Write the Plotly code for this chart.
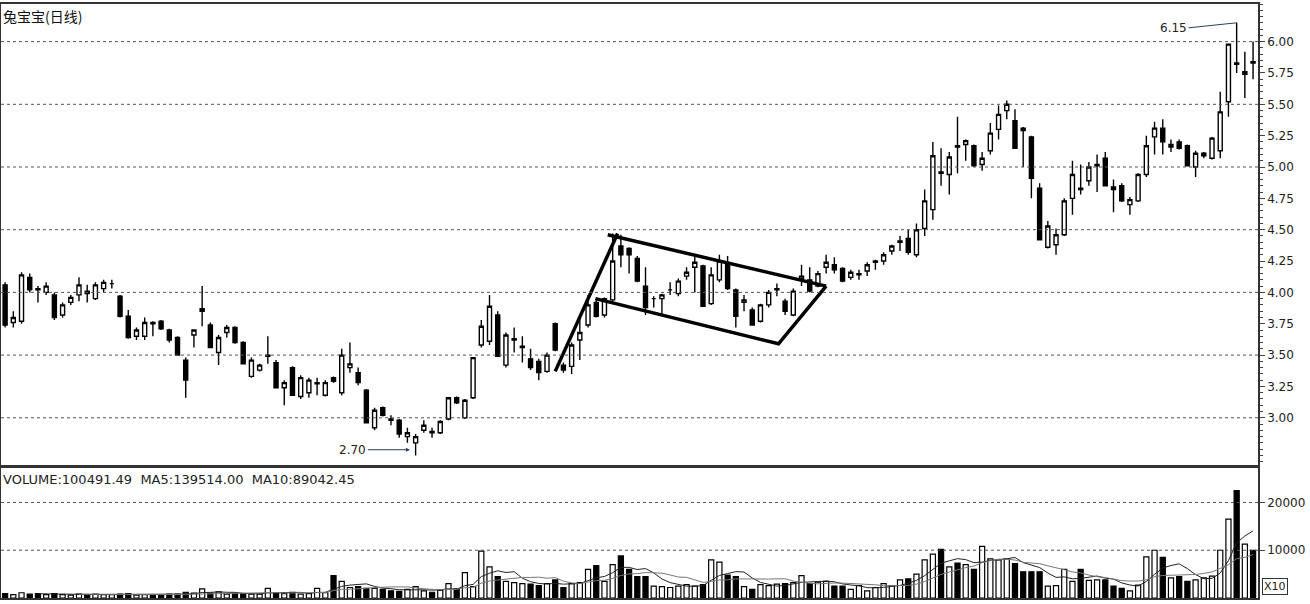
import pandas as pd
import plotly.graph_objects as go
from plotly.subplots import make_subplots

# daily candles
opens = [4.06, 3.76, 3.77, 4.12, 4.03, 4.00, 3.98, 3.82, 3.92, 3.98, 4.01, 3.95, 4.03, 4.07, 3.97, 3.81,
         3.65, 3.65, 3.76, 3.77, 3.70, 3.64, 3.46, 3.66, 3.85, 3.74, 3.52, 3.68, 3.72, 3.60, 3.33, 3.38,
         3.49, 3.44, 3.24, 3.40, 3.17, 3.20, 3.27, 3.18, 3.32, 3.20, 3.40, 3.36, 3.22, 2.92, 3.08, 2.99,
         2.98, 2.85, 2.80, 2.90, 2.89, 2.88, 2.99, 3.16, 3.00, 3.16, 3.58, 3.61, 3.82, 3.42, 3.62, 3.56,
         3.47, 3.45, 3.37, 3.75, 3.42, 3.41, 3.62, 3.74, 3.92, 3.82, 3.94, 4.37, 4.35, 4.27, 4.05, 3.95,
         3.95, 4.02, 3.99, 4.13, 4.20, 4.21, 3.91, 4.10, 4.23, 4.02, 3.92, 3.86, 3.77, 3.90, 4.02, 3.93,
         3.82, 4.11, 4.10, 4.05, 4.20, 4.22, 4.19, 4.12, 4.14, 4.17, 4.24, 4.25, 4.33, 4.40, 4.43, 4.30,
         4.51, 4.66, 4.96, 4.94, 5.17, 5.18, 5.17, 5.02, 5.13, 5.30, 5.45, 5.37, 5.31, 5.24, 4.83, 4.36,
         4.38, 4.46, 4.75, 4.83, 4.89, 5.01, 5.07, 4.84, 4.85, 4.70, 4.73, 4.94, 5.24, 5.31, 5.16, 5.20,
         5.17, 5.00, 5.09, 5.07, 5.13, 5.52, 5.83, 5.74, 5.84]
highs = [4.08, 3.85, 4.16, 4.15, 4.05, 4.08, 4.00, 3.92, 3.98, 4.12, 4.06, 4.08, 4.10, 4.10, 3.98, 3.86,
         3.72, 3.80, 3.77, 3.78, 3.71, 3.65, 3.48, 3.70, 4.05, 3.76, 3.66, 3.74, 3.73, 3.61, 3.48, 3.43,
         3.65, 3.46, 3.30, 3.41, 3.34, 3.32, 3.32, 3.30, 3.33, 3.55, 3.60, 3.40, 3.23, 3.08, 3.09, 3.02,
         2.99, 2.92, 2.87, 2.98, 2.92, 2.98, 3.16, 3.17, 3.15, 3.48, 3.78, 3.98, 3.85, 3.68, 3.72, 3.65,
         3.55, 3.47, 3.52, 3.76, 3.44, 3.60, 3.82, 3.98, 3.94, 3.96, 4.47, 4.46, 4.36, 4.29, 4.20, 3.97,
         3.99, 4.08, 4.11, 4.20, 4.30, 4.22, 4.20, 4.30, 4.29, 4.03, 3.98, 3.88, 3.91, 4.02, 4.07, 3.95,
         4.03, 4.22, 4.20, 4.17, 4.30, 4.28, 4.20, 4.18, 4.18, 4.24, 4.26, 4.32, 4.38, 4.45, 4.50, 4.55,
         4.82, 5.20, 5.15, 5.12, 5.40, 5.22, 5.18, 5.12, 5.35, 5.49, 5.53, 5.46, 5.32, 5.25, 4.87, 4.57,
         4.51, 4.75, 5.05, 5.02, 5.04, 5.10, 5.12, 4.90, 4.87, 4.76, 4.95, 5.25, 5.36, 5.38, 5.22, 5.22,
         5.18, 5.13, 5.12, 5.24, 5.60, 5.98, 6.15, 5.92, 6.00]
lows = [3.72, 3.72, 3.75, 4.00, 3.92, 3.98, 3.78, 3.80, 3.90, 3.93, 3.92, 3.94, 4.00, 4.03, 3.80, 3.63,
        3.62, 3.62, 3.65, 3.70, 3.60, 3.50, 3.16, 3.56, 3.73, 3.56, 3.42, 3.64, 3.59, 3.43, 3.32, 3.37,
        3.43, 3.24, 3.10, 3.18, 3.15, 3.16, 3.18, 3.17, 3.28, 3.18, 3.36, 3.26, 2.96, 2.90, 3.01, 2.94,
        2.84, 2.80, 2.70, 2.88, 2.84, 2.87, 2.98, 3.11, 2.99, 3.15, 3.56, 3.58, 3.49, 3.40, 3.52, 3.44,
        3.38, 3.30, 3.36, 3.53, 3.36, 3.35, 3.46, 3.72, 3.80, 3.80, 3.92, 4.20, 4.15, 4.08, 3.82, 3.88,
        3.82, 3.98, 3.97, 4.10, 4.00, 3.89, 3.90, 4.08, 4.02, 3.72, 3.85, 3.74, 3.76, 3.88, 3.97, 3.82,
        3.81, 4.05, 4.00, 4.04, 4.15, 4.15, 4.08, 4.10, 4.10, 4.13, 4.18, 4.22, 4.30, 4.33, 4.30, 4.28,
        4.45, 4.58, 4.85, 4.78, 4.95, 5.05, 5.00, 4.97, 5.10, 5.22, 5.38, 5.15, 5.00, 4.75, 4.42, 4.35,
        4.30, 4.45, 4.62, 4.78, 4.85, 4.80, 4.85, 4.64, 4.72, 4.62, 4.72, 4.92, 5.10, 5.10, 5.12, 5.14,
        5.01, 4.92, 5.07, 5.06, 5.07, 5.40, 5.75, 5.55, 5.70]
closes = [3.74, 3.80, 4.14, 4.02, 4.02, 4.05, 3.80, 3.90, 3.96, 4.06, 3.99, 4.06, 4.08, 4.07, 3.81, 3.64,
          3.70, 3.76, 3.75, 3.71, 3.62, 3.50, 3.30, 3.70, 3.87, 3.56, 3.64, 3.72, 3.60, 3.43, 3.46, 3.42,
          3.50, 3.24, 3.28, 3.18, 3.32, 3.30, 3.28, 3.28, 3.29, 3.50, 3.43, 3.28, 2.96, 3.06, 3.02, 2.98,
          2.87, 2.88, 2.85, 2.94, 2.88, 2.97, 3.16, 3.12, 3.14, 3.48, 3.73, 3.89, 3.49, 3.66, 3.63, 3.57,
          3.40, 3.36, 3.50, 3.54, 3.38, 3.58, 3.68, 3.90, 3.81, 3.95, 4.25, 4.30, 4.30, 4.09, 3.88, 3.95,
          3.98, 4.02, 4.09, 4.16, 4.24, 3.89, 4.14, 4.25, 4.03, 3.81, 3.94, 3.74, 3.90, 4.00, 4.03, 3.85,
          4.01, 4.13, 4.01, 4.15, 4.24, 4.18, 4.09, 4.16, 4.15, 4.22, 4.25, 4.30, 4.37, 4.41, 4.32, 4.50,
          4.73, 5.09, 4.95, 5.08, 5.16, 5.21, 5.01, 5.07, 5.27, 5.42, 5.50, 5.15, 5.29, 4.91, 4.42, 4.53,
          4.46, 4.73, 4.94, 4.82, 5.00, 5.02, 4.85, 4.82, 4.73, 4.74, 4.94, 5.17, 5.31, 5.20, 5.18, 5.15,
          5.01, 5.11, 5.11, 5.23, 5.44, 5.98, 5.82, 5.76, 5.83]
volumes = ([900, 700, 1100, 800, 900, 700, 900, 700, 600, 800, 700, 800, 700, 700, 800, 900,
            600, 700, 600, 700, 800, 800, 1200, 1000]
           + [1900, 1000, 1300, 800, 900, 900, 800, 800, 2000, 1000, 900, 1200, 800, 900, 2000, 1100]
           + [4700, 3500, 2200, 2400, 2000, 2000, 1800, 1500, 1400, 1800, 2400, 1500, 1200, 1600, 3000, 1900]
           + [5300, 2400, 9800, 6500, 4500, 3500, 3200, 3000, 2900, 2600, 3000, 3800, 2200, 3000, 3200,
              6000, 6800, 3500, 7000, 8800, 6000, 4500]
           + [4500, 2500, 2400, 2200, 2500, 2800, 2500, 2800, 8000, 7500, 4800, 4500, 2400, 1800, 2800,
              2600, 2900, 3000]
           + [3200, 4700, 3000, 3300, 3500, 2500, 2500, 1800, 2600, 1500, 2200, 3000, 2600, 3800, 4000]
           + [5000, 8000, 9200, 10200, 6500, 7300, 7000, 6000, 10800, 8200, 8000, 8200, 7200, 5500, 5500, 5500]
           + [2500, 2600, 6000, 3500, 6000, 3700, 3800, 3800, 2500, 2000, 1500, 2700, 8600, 10000, 8500,
              4200, 4500, 3500, 3800, 4200, 4600, 10000, 16500, 22500, 11300, 10000])

price_ticks = [3.00, 3.25, 3.50, 3.75, 4.00, 4.25, 4.50, 4.75, 5.00, 5.25, 5.50, 5.75, 6.00]
price_grid = [3.0, 3.5, 4.0, 4.5, 5.0, 5.5, 6.0]
vol_ticks = [10000, 20000]

# flag pattern trend lines: (candle index, price)
flag_pole = [(67.0, 3.37), (74.6, 4.47)]
flag_top = [(73.4, 4.46), (100.0, 4.05)]
flag_bottom = [(71.9, 3.95), (94.2, 3.59), (100.0, 4.05)]

df = pd.DataFrame({"open": opens, "high": highs, "low": lows, "close": closes, "vol": volumes})
df["i"] = range(len(df))
df["ma5"] = df["vol"].rolling(5).mean()
df["ma10"] = df["vol"].rolling(10).mean()
up = df["close"] >= df["open"]

fig = make_subplots(rows=2, cols=1, shared_xaxes=True, vertical_spacing=0.006,
                    row_heights=[0.78, 0.22])

fig.add_trace(go.Candlestick(
    x=df["i"], open=df["open"], high=df["high"], low=df["low"], close=df["close"],
    increasing=dict(line=dict(color="black", width=1.4), fillcolor="white"),
    decreasing=dict(line=dict(color="black", width=1.4), fillcolor="black"),
    whiskerwidth=0, showlegend=False, hoverinfo="skip"), row=1, col=1)

fig.add_trace(go.Bar(
    x=df["i"], y=df["vol"], width=0.62,
    marker=dict(color=["white" if u else "black" for u in up], line=dict(color="black", width=1.2)),
    showlegend=False, hoverinfo="skip"), row=2, col=1)
fig.add_trace(go.Scatter(x=df["i"], y=df["ma5"], mode="lines",
                         line=dict(color="#222", width=1), showlegend=False), row=2, col=1)
fig.add_trace(go.Scatter(x=df["i"], y=df["ma10"], mode="lines",
                         line=dict(color="#777", width=1), showlegend=False), row=2, col=1)

for pts in (flag_pole, flag_top, flag_bottom):
    fig.add_trace(go.Scatter(x=[p[0] for p in pts], y=[p[1] for p in pts], mode="lines",
                             line=dict(color="black", width=3.5), showlegend=False,
                             hoverinfo="skip"), row=1, col=1)

for g in price_grid:
    fig.add_hline(y=g, line=dict(color="#555", width=1, dash="dot"), row=1, col=1)
for g in vol_ticks:
    fig.add_hline(y=g, line=dict(color="#555", width=1, dash="dot"), row=2, col=1)

font = dict(family="DejaVu Sans", size=12, color="#222")
fig.update_xaxes(range=[-0.5, 152.6], showticklabels=False, showgrid=False, zeroline=False,
                 rangeslider_visible=False, showline=True, linecolor="#333", linewidth=1.5, mirror=True)
fig.update_yaxes(side="right", showgrid=False, zeroline=False, showline=True, linecolor="#333",
                 linewidth=1.5, mirror=True, ticks="outside", ticklen=5, tickfont=font)
fig.update_yaxes(range=[2.627, 6.30], tickvals=price_ticks,
                 ticktext=[f"{t:.2f}" for t in price_ticks], minor=dict(ticks="outside", ticklen=3,
                 dtick=0.05), row=1, col=1)
fig.update_yaxes(range=[0, 27200], tickvals=vol_ticks, ticktext=[str(v) for v in vol_ticks],
                 row=2, col=1)

fig.add_annotation(x=0, y=1.0, xref="paper", yref="paper", xanchor="left", yanchor="top",
                   text="兔宝宝(日线)", showarrow=False,
                   font=dict(family="Noto Sans CJK SC", size=14, color="#111"))
fig.add_annotation(x=0, y=0.215, xref="paper", yref="paper", xanchor="left", yanchor="top",
                   text="VOLUME:100491.49  MA5:139514.00  MA10:89042.45", showarrow=False,
                   font=dict(family="DejaVu Sans", size=13, color="#222"))
fig.add_annotation(x=49.3, y=2.745, text="2.70", ax=-42, ay=0, showarrow=True, arrowhead=2,
                   arrowsize=0.8, arrowwidth=1, xanchor="right", font=font, row=1, col=1)
fig.add_annotation(x=150, y=6.15, text="6.15", ax=-48, ay=5, showarrow=True, arrowhead=0,
                   arrowwidth=1, xanchor="right", font=font, row=1, col=1)
fig.add_annotation(x=1.003, y=0.005, xref="paper", yref="paper", xanchor="left", yanchor="bottom",
                   text="X10", showarrow=False, bordercolor="#333", borderwidth=1, borderpad=1,
                   font=dict(family="DejaVu Sans", size=11, color="#222"))

fig.update_layout(width=1310, height=604, margin=dict(l=1, r=52, t=4, b=6, autoexpand=False),
                  plot_bgcolor="white", paper_bgcolor="white", bargap=0.3)
fig.write_html("out.html", config={"displayModeBar": False},
               post_script="document.body.style.margin='0';")
